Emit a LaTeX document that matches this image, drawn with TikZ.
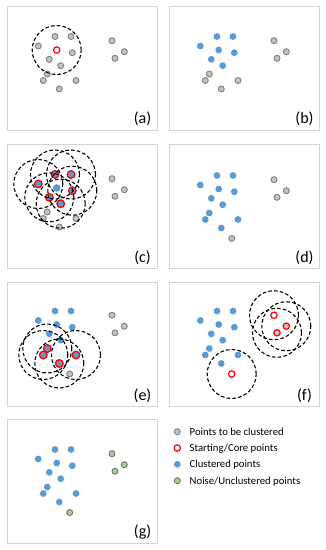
\documentclass[tikz,border=0pt]{standalone}
\usepackage{fontspec}
\setmainfont{Carlito}
\definecolor{ptgray}{HTML}{C3C3C3}
\definecolor{ptedge}{HTML}{7F7F7F}
\definecolor{ptblue}{HTML}{5B9BD5}
\definecolor{ptgreen}{HTML}{A9D18E}
\definecolor{frame}{HTML}{D4D4D4}
\newcommand\defpts{%
  \coordinate (p0) at (49.7,44);
  \coordinate (p1) at (48,30.5);
  \coordinate (p2) at (64,30.5);
  \coordinate (p3) at (31.3,40);
  \coordinate (p4) at (65.3,46.7);
  \coordinate (p5) at (42.3,53.3);
  \coordinate (p6) at (53.7,59.7);
  \coordinate (p7) at (40.3,68);
  \coordinate (p8) at (36.3,74.5);
  \coordinate (p9) at (69,74.5);
  \coordinate (p10) at (52.3,83);
  \coordinate (p11) at (62.7,93.5);
  \coordinate (r1) at (105,34.7);
  \coordinate (r2) at (117.3,45.7);
  \coordinate (r3) at (108,52.3);
}
\tikzset{
  pt/.style={circle, inner sep=0pt},
  graypt/.style={pt, minimum size=6pt, fill=ptgray, draw=ptedge, line width=0.9pt},
  bluept/.style={pt, minimum size=6.8pt, fill=ptblue},
  bigblue/.style={pt, minimum size=7.6pt, fill=ptblue},
  redpt/.style={pt, minimum size=6.4pt, fill=white, draw=red, line width=1.2pt},
  redgray/.style={pt, minimum size=6.4pt, fill=ptgray, draw=red, line width=1.2pt},
  redblue/.style={pt, minimum size=7.6pt, fill=ptblue, draw=red, line width=1.3pt},
  greenpt/.style={pt, minimum size=6pt, fill=ptgreen, draw=ptedge!90!black, line width=0.9pt},
  dashcirc/.style={draw=black, line width=1.1pt, dash pattern=on 3.6pt off 2.2pt},
  panel/.style={draw=frame, line width=1pt},
  plabel/.style={inner sep=0pt, font=\fontsize{16}{16}\selectfont},
  legtext/.style={inner sep=0pt, anchor=base west, font=\fontsize{10.7}{12}\selectfont},
}
\begin{document}
\begin{tikzpicture}[x=1pt, y=-1pt]
\useasboundingbox[fill=white] (0,0) rectangle (326,550);
% frames
\draw[panel] (7,6) rectangle (157,130);
\draw[panel] (169,6) rectangle (319,130);
\draw[panel] (7,144) rectangle (157,268);
\draw[panel] (169,144) rectangle (319,268);
\draw[panel] (7,282) rectangle (157,406);
\draw[panel] (169,282) rectangle (319,406);
\draw[panel] (7,419) rectangle (157,543);
% (a)
\begin{scope}[shift={(7,6)}, name prefix=a-]
  \defpts
  \foreach \i in {1,...,10} \node[graypt] (n\i) at (p\i) {};
  \foreach \i in {1,2,3} \node[graypt] (m\i) at (r\i) {};
  \node[redpt] (n0) at (p0) {};
  \draw[dashcirc] (p0) circle[radius=24.5pt];
  \node[plabel] (lab) at (135.5,112.5) {(a)};
\end{scope}
% (b)
\begin{scope}[shift={(169,6)}, name prefix=b-]
  \defpts
  \foreach \i in {0,...,6} \node[bluept] (n\i) at (p\i) {};
  \foreach \i in {7,...,10} \node[graypt] (n\i) at (p\i) {};
  \foreach \i in {1,2,3} \node[graypt] (m\i) at (r\i) {};
  \node[plabel] (lab) at (135.5,112.5) {(b)};
\end{scope}
% (c)
\begin{scope}[shift={(7,144)}, name prefix=c-]
  \defpts
  \node[bigblue] (n0) at (p0) {};
  \foreach \i in {1,...,6} \node[redblue] (n\i) at (p\i) {};
  \foreach \i in {7,...,10} \node[graypt] (n\i) at (p\i) {};
  \foreach \i in {1,2,3} \node[graypt] (m\i) at (r\i) {};
  \foreach \i in {1,...,6} \draw[dashcirc] (p\i) circle[radius=24.5pt];
  \node[plabel] (lab) at (135.5,113.5) {(c)};
\end{scope}
% (d)
\begin{scope}[shift={(169,145)}, name prefix=d-]
  \defpts
  \foreach \i in {0,...,10} \node[bluept] (n\i) at (p\i) {};
  \node[graypt] (n11) at (p11) {};
  \foreach \i in {1,2,3} \node[graypt] (m\i) at (r\i) {};
  \node[plabel] (lab) at (135.5,112.5) {(d)};
\end{scope}
% (e)
\begin{scope}[shift={(7,280.5)}, name prefix=e-]
  \defpts
  \foreach \i in {0,...,6} \node[bluept] (n\i) at (p\i) {};
  \foreach \i in {7,...,10} \node[redblue] (n\i) at (p\i) {};
  \node[graypt] (n11) at (p11) {};
  \foreach \i in {1,2,3} \node[graypt] (m\i) at (r\i) {};
  \foreach \i in {7,...,10} \draw[dashcirc] (p\i) circle[radius=24.5pt];
  \node[plabel] (lab) at (135.5,115) {(e)};
\end{scope}
% (f)
\begin{scope}[shift={(169,280.5)}, name prefix=f-]
  \defpts
  \foreach \i in {0,...,10} \node[bluept] (n\i) at (p\i) {};
  \node[redpt] (n11) at (p11) {};
  \node[redpt] (m1) at (r1) {};
  \node[redgray] (m2) at (r2) {};
  \node[redgray] (m3) at (r3) {};
  \draw[dashcirc] (p11) circle[radius=24.5pt];
  \foreach \i in {1,2,3} \draw[dashcirc] (r\i) circle[radius=24.5pt];
  \node[plabel] (lab) at (135.5,115) {(f)};
\end{scope}
% (g)
\begin{scope}[shift={(7,419)}, name prefix=g-]
  \defpts
  \foreach \i in {0,...,10} \node[bluept] (n\i) at (p\i) {};
  \node[greenpt] (n11) at (p11) {};
  \foreach \i in {1,2,3} \node[greenpt] (m\i) at (r\i) {};
  \node[plabel] (lab) at (135.5,113.5) {(g)};
\end{scope}
% legend
\node[graypt] (k1) at (177.3,431.7) {};
\node[redpt] (k2) at (177.3,448) {};
\node[bluept] (k3) at (177.3,464.3) {};
\node[greenpt] (k4) at (177.3,480.7) {};
\node[legtext] (t1) at (189.5,435.1) {Points to be clustered};
\node[legtext] (t2) at (189.5,451.4) {Starting/Core points};
\node[legtext] (t3) at (189.5,467.7) {Clustered points};
\node[legtext] (t4) at (189.5,484.1) {Noise/Unclustered points};
\end{tikzpicture}
\end{document}
